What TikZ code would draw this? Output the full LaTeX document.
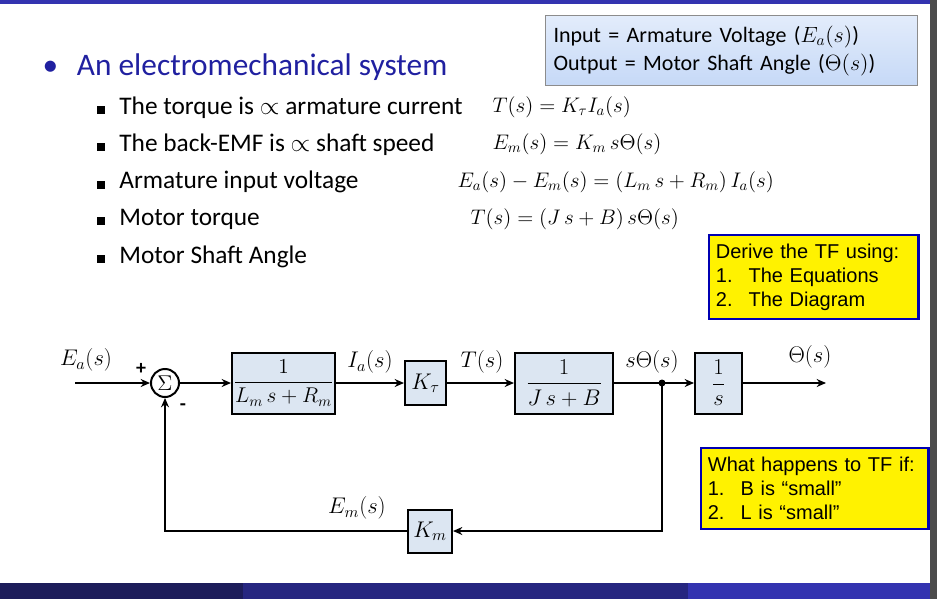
\RequirePackage{fix-cm}
\documentclass[tikz,border=0pt]{standalone}
\usepackage{amsmath}
\usepackage{fontspec}
\setmainfont{Carlito}
\newfontfamily\arialfont{Liberation Sans}
\usetikzlibrary{positioning, arrows.meta, calc}
\definecolor{slideblue}{HTML}{2020A0}
\definecolor{blockfill}{HTML}{DCE6F2}
\definecolor{barA}{HTML}{1C1C5A}
\definecolor{barB}{HTML}{262680}
\definecolor{barC}{HTML}{3333B0}
\definecolor{boxblue}{HTML}{C6D9F7}

\begin{document}
\begin{tikzpicture}[
    x=0.75pt, y=-0.75pt,
    block/.style={draw=black, line width=1.5pt, fill=blockfill, inner sep=0pt},
    note/.style={draw=blue!70!black, line width=1.8pt, fill=yellow, align=left,
        anchor=north west, inner xsep=5pt, inner ysep=3pt,
        font=\arialfont\fontsize{15}{18}\selectfont},
    sig/.style={font=\fontsize{17}{19}\selectfont},
    item/.style={anchor=west, font=\fontsize{19}{22}\selectfont},
    eqn/.style={anchor=west, font=\fontsize{15.8}{18}\selectfont},
    wire/.style={line width=1.5pt, -{Stealth[length=7pt, width=6pt]}},
    line/.style={line width=1.5pt}
]
\useasboundingbox (0,0) rectangle (937,599);

% Slide frame
\fill[barC] (0,0) rectangle (930,4);
\fill[barA] (0,583) rectangle (243,599);
\fill[barB] (243,583) rectangle (688,599);
\fill[barC] (688,583) rectangle (930,599);
\fill[black!70] (930,0) rectangle (937,599);

% Input / output box
\node[draw=black!45, line width=0.8pt, top color=boxblue!50, bottom color=boxblue,
      text width=356*0.75pt, minimum height=70*0.75pt, align=left, inner xsep=6pt,
      font=\fontsize{16.5}{21}\selectfont, anchor=north west] (io) at (545,15)
    {Input = Armature Voltage ($E_a(s)$)\\Output = Motor Shaft Angle ($\Theta(s)$)};

% Bullets
\node[text=slideblue, font=\fontsize{23.5}{26}\selectfont, anchor=west] (title) at (38,67)
    {\textbullet\hspace{14pt}An electromechanical system};
\foreach \txt [count=\i] in {The torque is $\propto$ armature current,
        The back-EMF is $\propto$ shaft speed,
        Armature input voltage, Motor torque, Motor Shaft Angle} {
    \node[item] (item\i) at (92,{70+37.3*\i}) {\rule{6pt}{6pt}\hspace{11pt}\txt};
}

% Equations
\node[eqn] (eq1) at (488,107) {$T(s)=K_\tau I_a(s)$};
\node[eqn] (eq2) at (488,144) {$E_m(s)=K_m\,s\Theta(s)$};
\node[eqn] (eq3) at (453,182) {$E_a(s)-E_m(s)=\left(L_m\,s+R_m\right)I_a(s)$};
\node[eqn] (eq4) at (466,219) {$T(s)=\left(J\,s+B\right)s\Theta(s)$};

% Notes
\node[note, text width=196*0.75pt, minimum height=84*0.75pt] (derive) at (708,234)
    {Derive the TF using:\\1.\hspace{12pt}The Equations\\2.\hspace{12pt}The Diagram};
\node[note, text width=214*0.75pt, minimum height=81*0.75pt] (what) at (700,447)
    {What happens to TF if:\\1.\hspace{12pt}B is “small”\\2.\hspace{12pt}L is “small”};

% Block diagram
\coordinate (in) at (75,383);
\node[draw, circle, line width=1.5pt, fill=white, minimum size=28*0.75pt, inner sep=0pt,
      font=\fontsize{16}{16}\selectfont] (sum) at (165,383) {$\Sigma$};
\node[block, minimum width=103*0.75pt, minimum height=61*0.75pt] (elec) at (283.5,383)
    {\fontsize{16}{19}\selectfont$\dfrac{1}{L_m\,s+R_m}$};
\node[block, minimum width=41*0.75pt, minimum height=44*0.75pt] (ktau) at (425.5,383)
    {\fontsize{17}{19}\selectfont$K_\tau$};
\node[block, minimum width=98*0.75pt, minimum height=61*0.75pt] (mech) at (564,383)
    {\fontsize{17}{19}\selectfont$\dfrac{1}{J\,s+B}$};
\node[block, minimum width=47*0.75pt, minimum height=61*0.75pt] (integ) at (718.5,383)
    {\fontsize{17}{19}\selectfont$\dfrac{1}{s}$};
\node[block, minimum width=44*0.75pt, minimum height=43*0.75pt] (km) at (430,531)
    {\fontsize{17}{19}\selectfont$K_m$};
\coordinate (out) at (826,383);
\coordinate (tap) at (662,383);
\fill (tap) circle (3.5);

\draw[wire] (in) -- (sum);
\draw[wire] (sum) -- (elec);
\draw[wire] (elec) -- (ktau);
\draw[wire] (ktau) -- (mech);
\draw[wire] (mech) -- (integ);
\draw[wire] (integ) -- (out);
\draw[wire] (tap) |- (km);
\draw[wire] (km) -| (sum);

% Signal labels
\node[sig] at (86,360) {$E_a(s)$};
\node[font=\bfseries\fontsize{15}{15}\selectfont] at (141,369) {+};
\node[font=\bfseries\fontsize{15}{15}\selectfont] at (183,407) {-};
\node[sig] at (370,362) {$I_a(s)$};
\node[sig] at (482,362) {$T(s)$};
\node[sig] at (652,362) {$s\Theta(s)$};
\node[sig] at (810,357) {$\Theta(s)$};
\node[sig] at (357,508) {$E_m(s)$};
\end{tikzpicture}
\end{document}
